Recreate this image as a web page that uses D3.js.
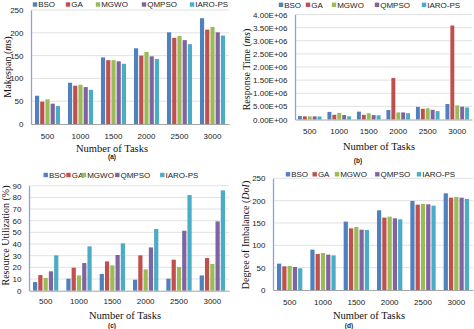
<!DOCTYPE html>
<html><head><meta charset="utf-8">
<script src="https://cdn.jsdelivr.net/npm/d3@7"></script>
<style>body{margin:0;background:#fff} svg{display:block}</style>
</head><body><svg id="chart" width="474" height="329"></svg>
<script>
// Shared categories and series
const taskCounts = ["500", "1000", "1500", "2000", "2500", "3000"];
const algorithms = ["BSO", "GA", "MGWO", "QMPSO", "IARO-PS"];
const algorithmColors = ["#4F81BD", "#C0504D", "#9BBB59", "#8064A2", "#4BACC6"];

// Each row is one algorithm, each column one task count
const makespan = [
  [62, 90.5, 146, 166, 201, 232],
  [49, 84, 140, 150, 189, 207],
  [54, 86, 140, 158, 193, 213],
  [44.5, 81, 137.5, 148.5, 184, 201],
  [39.5, 75, 132, 142.5, 175, 194]
];
const responseTime = [
  [1.3e5, 2.9e5, 3.0e5, 3.6e5, 4.8e5, 5.9e5],
  [1.2e5, 1.8e5, 1.8e5, 1.58e6, 4.1e5, 3.58e6],
  [1.2e5, 2.5e5, 2.4e5, 2.7e5, 4.3e5, 5.4e5],
  [1.2e5, 1.7e5, 1.7e5, 2.7e5, 3.7e5, 4.9e5],
  [1.15e5, 1.2e5, 1.6e5, 2.4e5, 3.2e5, 4.6e5]
];
const resourceUtilization = [
  [7.4, 10.3, 14.3, 9.4, 10.3, 13.1],
  [13.4, 19.7, 25.1, 30.3, 26.6, 28],
  [10.9, 13.1, 21.7, 18.3, 20.3, 22.9],
  [16.6, 23.7, 30.6, 37.1, 51.4, 59.4],
  [30.3, 38, 40.6, 52.9, 82, 86]
];
const degreeOfImbalance = [
  [59, 90.3, 153, 178.4, 199.3, 216.4],
  [53, 80.6, 138, 162, 191, 206.7],
  [53.7, 82.8, 141, 164.2, 192.5, 208.2],
  [51.5, 79.1, 135, 160.4, 191.8, 206.7],
  [48.5, 77.6, 134.3, 158.2, 188.8, 203.7]
];

// Axis ticks
const makespanTicks = [0, 50, 100, 150, 200, 250];
const responseTicks = [0, 5e5, 1e6, 1.5e6, 2e6, 2.5e6, 3e6, 3.5e6, 4e6];
const utilizationTicks = [0, 10, 20, 30, 40, 50, 60, 70, 80, 90];
const imbalanceTicks = [0, 50, 100, 150, 200, 250];

const sansFont = "'Liberation Sans Narrow', 'Liberation Sans', Arial, sans-serif";
const serifFont = "'Liberation Serif', 'Times New Roman', serif";

// Excel-style scientific notation: 3.50E+06
function sciFormat(v) {
  if (v === 0) return "0.00E+00";
  const e = Math.floor(Math.log10(Math.abs(v)));
  const m = v / Math.pow(10, e);
  return m.toFixed(2) + "E" + (e < 0 ? "-" : "+") + String(Math.abs(e)).padStart(2, "0");
}

const panels = [
  { values: makespan, ticks: makespanTicks, fmt: d3.format("d"),
    left: 31, right: 229, top: 10, bottom: 124, pad: 0.24,
    yTitle: [["Makespan (", false], ["ms", true], [")", false]], yTitleX: 7, yTitleY: 67,
    xTitleX: 112, xTitleY: 148, tickY: 136, tag: "(a)", tagX: 112, tagY: 157,
    legendY: 4.5, legendX: [35, 68, 98, 144, 192] },
  { values: responseTime, ticks: responseTicks, fmt: sciFormat,
    left: 295, right: 472, top: 14.5, bottom: 119.5, pad: 0.2,
    yTitle: [["Response Time (", false], ["ms", true], [")", false]], yTitleX: 246, yTitleY: 69.5,
    xTitleX: 379, xTitleY: 146, tickY: 131, tag: "(b)", tagX: 358, tagY: 160.5,
    legendY: 4.8, legendX: [281, 308, 334, 377, 424] },
  { values: resourceUtilization, ticks: utilizationTicks, fmt: d3.format("d"),
    left: 29, right: 229, top: 185.7, bottom: 290.7, pad: 0.24,
    yTitle: [["Resource Utilization (%)", false]], yTitleX: 5, yTitleY: 235.5,
    xTitleX: 125, xTitleY: 315, tickY: 301.7, tag: "(c)", tagX: 112, tagY: 325.7,
    legendY: 175, legendX: [45.7, 68.5, 84, 117.3, 162.3] },
  { values: degreeOfImbalance, ticks: imbalanceTicks, fmt: d3.format("d"),
    left: 273, right: 473, top: 178.3, bottom: 290, pad: 0.24,
    yTitle: [["Degree of Imbalance (", false], ["DoI", true], [")", false]], yTitleX: 245.5, yTitleY: 235,
    xTitleX: 369, xTitleY: 315, tickY: 301.7, tag: "(d)", tagX: 349, tagY: 325.7,
    legendY: 174.3, legendX: [288, 314.7, 337, 377.3, 419] }
];

const svg = d3.select("#chart");

panels.forEach(p => {
  const g = svg.append("g");
  const yMax = p.ticks[p.ticks.length - 1];
  const y = d3.scaleLinear().domain([0, yMax]).range([p.bottom, p.top]);
  const x0 = d3.scaleBand().domain(taskCounts).range([p.left, p.right])
    .paddingInner(p.pad).paddingOuter(p.pad / 2);
  const x1 = d3.scaleBand().domain(algorithms).range([0, x0.bandwidth()]).paddingInner(0.2);

  // horizontal gridlines
  g.append("g").selectAll("line").data(p.ticks.slice(1)).join("line")
    .attr("x1", p.left).attr("x2", p.right)
    .attr("y1", d => y(d)).attr("y2", d => y(d))
    .attr("stroke", "#d9d9d9").attr("stroke-width", 0.8);

  // bars
  const groups = g.append("g").selectAll("g").data(taskCounts).join("g")
    .attr("transform", d => `translate(${x0(d)},0)`);
  groups.selectAll("rect")
    .data((c, ci) => algorithms.map((a, ai) => ({ a, ai, v: p.values[ai][ci] })))
    .join("rect")
    .attr("x", d => x1(d.a))
    .attr("width", x1.bandwidth())
    .attr("y", d => y(d.v))
    .attr("height", d => p.bottom - y(d.v))
    .attr("fill", d => algorithmColors[d.ai]);

  // y axis
  const yAxis = g.append("g").attr("transform", `translate(${p.left},0)`)
    .call(d3.axisLeft(y).tickValues(p.ticks).tickFormat(p.fmt).tickSize(0).tickPadding(7.5));
  yAxis.select(".domain").attr("stroke", "#8aa6cf").attr("stroke-width", 1.3);
  yAxis.selectAll("text").attr("font-family", sansFont).attr("font-size", 8).attr("fill", "#222");

  // x axis
  const xAxis = g.append("g").attr("transform", `translate(0,${p.bottom})`)
    .call(d3.axisBottom(x0).tickSize(0).tickPadding(0));
  xAxis.select(".domain").attr("stroke", "#9a9a9a").attr("stroke-width", 0.9);
  xAxis.selectAll("text").attr("font-family", sansFont).attr("font-size", 8).attr("fill", "#222")
    .attr("y", p.tickY - p.bottom).attr("dy", "0.35em");

  // y title
  const yt = g.append("text")
    .attr("transform", `translate(${p.yTitleX},${p.yTitleY}) rotate(-90)`)
    .attr("text-anchor", "middle").attr("dy", "0.35em")
    .attr("font-family", serifFont).attr("font-size", 10).attr("fill", "#111");
  p.yTitle.forEach(([t, it]) => yt.append("tspan").text(t).attr("font-style", it ? "italic" : "normal"));

  // x title
  g.append("text").attr("x", p.xTitleX).attr("y", p.xTitleY).attr("dy", "0.35em")
    .attr("text-anchor", "middle").attr("font-family", serifFont).attr("font-size", 10.5)
    .attr("fill", "#111").text("Number of Tasks");

  // panel tag
  g.append("text").attr("x", p.tagX).attr("y", p.tagY).attr("dy", "0.35em")
    .attr("text-anchor", "middle").attr("font-family", sansFont).attr("font-size", 6.5)
    .attr("font-weight", "bold").attr("fill", "#222").text(p.tag);

  // legend
  const lg = g.append("g").selectAll("g").data(algorithms).join("g")
    .attr("transform", (d, i) => `translate(${p.legendX[i]},${p.legendY})`);
  lg.append("rect").attr("x", -2.2).attr("y", -2.2).attr("width", 4.4).attr("height", 4.4)
    .attr("fill", (d, i) => algorithmColors[i]);
  lg.append("text").attr("x", 3.2).attr("dy", "0.35em")
    .attr("font-family", sansFont).attr("font-size", 8).attr("fill", "#222").text(d => d);
});
</script></body></html>
